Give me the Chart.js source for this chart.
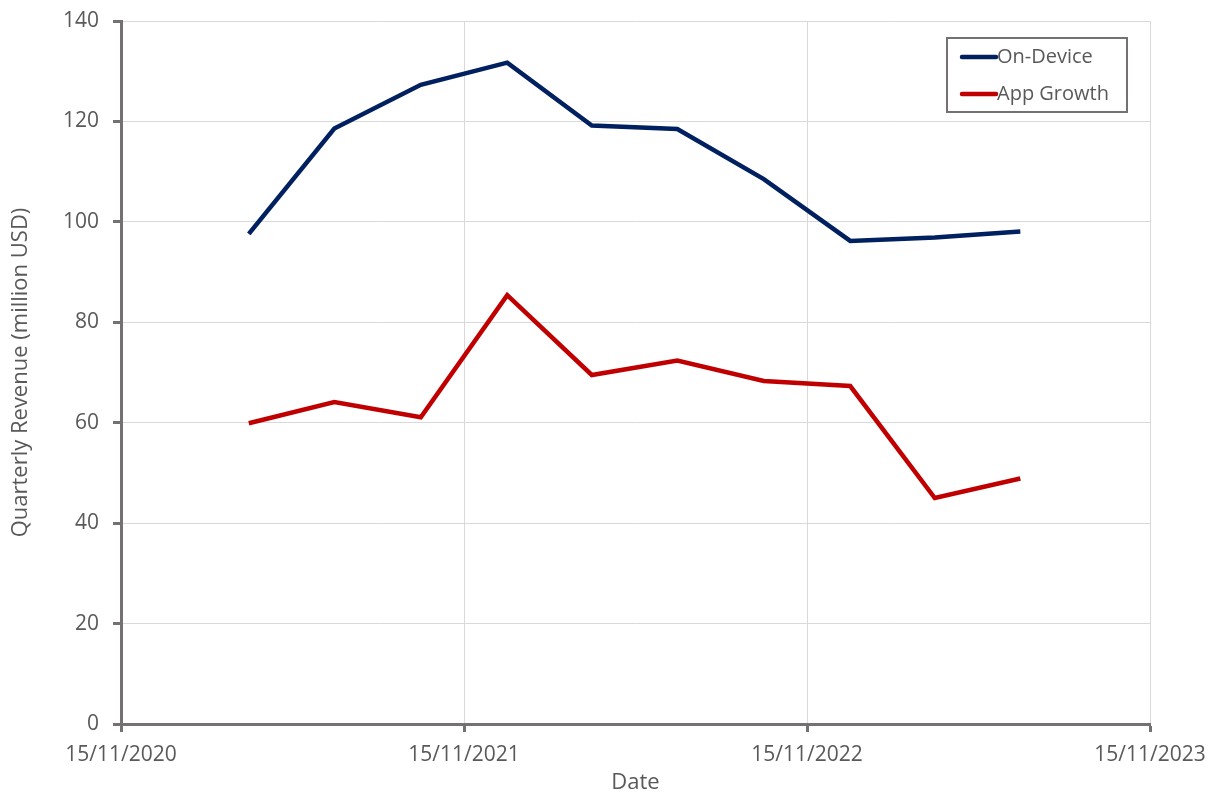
<!DOCTYPE html>
<html lang="en">
  <head>
    <meta charset="UTF-8" />
    <title>Quarterly Revenue</title>
    <style>
      html,
      body {
        margin: 0;
        padding: 0;
        background-color: #ffffff;
      }
      .chart-box {
        width: 1222px;
        height: 799px;
      }
    </style>
  </head>
  <body>
    <div class="chart-box">
      <canvas id="revenueChart" width="1222" height="799"></canvas>
    </div>

    <script src="https://cdn.jsdelivr.net/npm/chart.js"></script>
    <script>
      // quarter-end dates of the data points
      const quarterDates = [
        "2021-03-31", "2021-06-30", "2021-09-30", "2021-12-31", "2022-03-31",
        "2022-06-30", "2022-09-30", "2022-12-31", "2023-03-31", "2023-06-30",
      ];
      const onDevice = [97.6, 118.6, 127.3, 131.7, 119.2, 118.5, 108.5, 96.2, 96.9, 98.1];
      const appGrowth = [59.9, 64.1, 61.1, 85.4, 69.5, 72.4, 68.3, 67.3, 45.0, 48.9];

      // axis ticks
      const dateTicks = ["2020-11-15", "2021-11-15", "2022-11-15", "2023-11-15"];
      const revenueTicks = [0, 20, 40, 60, 80, 100, 120, 140];

      const DAY = 86400000;
      const startMs = Date.parse(dateTicks[0]);
      const toDay = (d) => (Date.parse(d) - startMs) / DAY;
      const fmtDay = (v) => {
        const d = new Date(startMs + v * DAY);
        const dd = String(d.getUTCDate()).padStart(2, "0");
        const mm = String(d.getUTCMonth() + 1).padStart(2, "0");
        return dd + "/" + mm + "/" + d.getUTCFullYear();
      };

      const axisColor = "#767171";
      const textColor = "#595959";
      const fontFamily = "'Open Sans', 'Noto Sans', sans-serif";

      // legend drawn inside the plot, with a framed box like the original
      const boxLegend = {
        id: "boxLegend",
        afterDraw(chart) {
          const ctx = chart.ctx;
          const x = 947, y = 38, w = 180, h = 74;
          ctx.save();
          ctx.fillStyle = "#ffffff";
          ctx.fillRect(x, y, w, h);
          ctx.strokeStyle = axisColor;
          ctx.lineWidth = 2;
          ctx.strokeRect(x, y, w, h);
          ctx.font = "20px " + fontFamily;
          ctx.textBaseline = "middle";
          chart.data.datasets.forEach((ds, i) => {
            const ly = y + 19 + i * 37;
            ctx.strokeStyle = ds.borderColor;
            ctx.lineWidth = 4.5;
            ctx.lineCap = "round";
            ctx.beginPath();
            ctx.moveTo(x + 15, ly);
            ctx.lineTo(x + 49, ly);
            ctx.stroke();
            ctx.fillStyle = textColor;
            ctx.fillText(ds.label, x + 50, ly);
          });
          ctx.restore();
        },
      };

      const ctx = document.getElementById("revenueChart").getContext("2d");
      new Chart(ctx, {
        type: "line",
        data: {
          datasets: [
            {
              label: "On-Device",
              data: quarterDates.map((d, i) => ({ x: toDay(d), y: onDevice[i] })),
              borderColor: "#002060",
              borderWidth: 4.5,
              pointRadius: 0,
              tension: 0,
            },
            {
              label: "App Growth",
              data: quarterDates.map((d, i) => ({ x: toDay(d), y: appGrowth[i] })),
              borderColor: "#C00000",
              borderWidth: 4.5,
              pointRadius: 0,
              tension: 0,
            },
          ],
        },
        options: {
          responsive: false,
          animation: false,
          layout: { padding: { top: 21, right: 72, left: 0, bottom: 0 } },
          plugins: {
            legend: { display: false },
            tooltip: { enabled: false },
          },
          scales: {
            x: {
              type: "linear",
              min: toDay(dateTicks[0]),
              max: toDay(dateTicks[dateTicks.length - 1]),
              afterBuildTicks: (scale) => {
                scale.ticks = dateTicks.map((d) => ({ value: toDay(d) }));
              },
              afterFit: (scale) => {
                scale.height = 75;
              },
              grid: {
                color: "#d9d9d9",
                lineWidth: 1,
                tickColor: axisColor,
                tickWidth: 3,
                tickLength: 8,
              },
              border: { color: axisColor, width: 3 },
              ticks: {
                color: textColor,
                font: { family: fontFamily, size: 21 },
                padding: 10,
                maxRotation: 0,
                callback: (v) => fmtDay(v),
              },
              title: {
                display: true,
                text: "Date",
                color: textColor,
                font: { family: fontFamily, size: 22 },
                padding: { top: 0, bottom: 3 },
              },
            },
            y: {
              min: revenueTicks[0],
              max: revenueTicks[revenueTicks.length - 1],
              afterBuildTicks: (scale) => {
                scale.ticks = revenueTicks.map((v) => ({ value: v }));
              },
              afterFit: (scale) => {
                scale.width = 121;
                scale.paddingTop = 0;
                scale.paddingBottom = 0;
              },
              grid: {
                color: "#d9d9d9",
                lineWidth: 1,
                tickColor: axisColor,
                tickWidth: 3,
                tickLength: 8,
              },
              border: { color: axisColor, width: 3 },
              ticks: {
                color: textColor,
                font: { family: fontFamily, size: 21 },
                padding: 14,
              },
              title: {
                display: true,
                text: "Quarterly Revenue (million USD)",
                color: textColor,
                font: { family: fontFamily, size: 22 },
                padding: { top: 8, bottom: 0 },
              },
            },
          },
        },
        plugins: [boxLegend],
      });
    </script>
  </body>
</html>
